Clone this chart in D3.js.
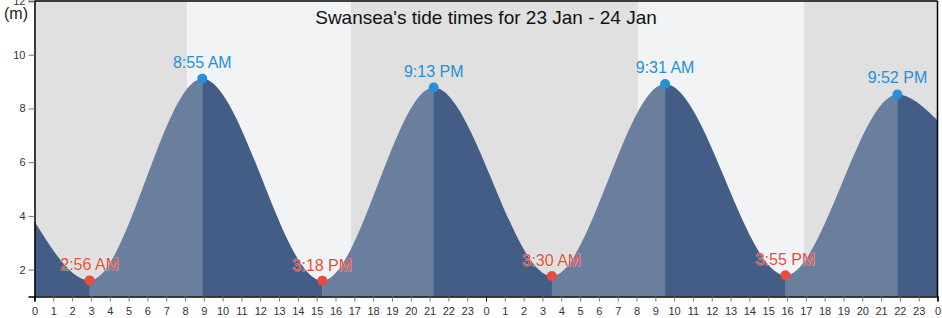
<!DOCTYPE html>
<html>
<head>
<meta charset="utf-8">
<script src="https://cdn.jsdelivr.net/npm/d3@7"></script>
<style>
  html, body { margin: 0; padding: 0; background: #fff; }
  svg { display: block; font-family: "Liberation Sans", Arial, sans-serif; }
</style>
</head>
<body>
<svg id="chart" width="942" height="318"></svg>
<script>
'use strict';

// ── Data ─────────────────────────────────────────────────────
// hours since 00:00 on 23 Jan, heights in metres
const TIDE_HOURS   = [0, 2.93, 8.92, 15.3, 21.22, 27.5, 33.52, 39.92, 45.87, 48];
const TIDE_HEIGHTS = [3.79, 1.6, 9.11, 1.59, 8.78, 1.76, 8.91, 1.79, 8.52, 7.56];

const EXTREME_HOURS   = [2.93, 8.92, 15.3, 21.22, 27.5, 33.52, 39.92, 45.87];
const EXTREME_HEIGHTS = [1.6, 9.11, 1.59, 8.78, 1.76, 8.91, 1.79, 8.52];
const EXTREME_LABELS  = ['2:56 AM', '8:55 AM', '3:18 PM', '9:13 PM', '3:30 AM', '9:31 AM', '3:55 PM', '9:52 PM'];
const EXTREME_TYPES   = ['low', 'high', 'low', 'high', 'low', 'high', 'low', 'high'];

// sunrise / sunset, hours
const DAYLIGHT = [[8.1, 16.83], [32.07, 40.9]];

const Y_TICKS = [2, 4, 6, 8, 10, 12];

// ── Look ─────────────────────────────────────────────────────
const W = 942, H = 318;
const M = { left: 34.5, right: 4.5, top: 1, bottom: 21.5 };
const COL = {
  night:   '#e0e0e0',
  day:     '#f2f3f5',
  rising:  '#6a7e9e',
  falling: '#445d87',
  high:    '#2590d8',
  low:     '#e84c3d',
};

const svg = d3.select('#chart');

const x = d3.scaleLinear().domain([0, 48]).range([M.left, W - M.right]);
const y = d3.scaleLinear().domain([1, 12]).range([H - M.bottom, M.top]);

// ── Background: night then daylight bands ────────────────────
svg.append('rect')
  .attr('x', x(0)).attr('y', y(12))
  .attr('width', x(48) - x(0)).attr('height', y(1) - y(12))
  .attr('fill', COL.night);

svg.append('g').selectAll('rect').data(DAYLIGHT).join('rect')
  .attr('x', d => x(d[0]))
  .attr('y', y(12))
  .attr('width', d => x(d[1]) - x(d[0]))
  .attr('height', y(1) - y(12))
  .attr('fill', COL.day);

// ── Tide area, split at each high / low ──────────────────────
const tide = TIDE_HOURS.map((h, i) => ({ h, v: TIDE_HEIGHTS[i] }));

const area = d3.area()
  .x(d => x(d.h))
  .y0(y(1))
  .y1(d => y(d.v))
  .curve(d3.curveMonotoneX);

svg.append('clipPath').attr('id', 'tide-clip')
  .append('path').attr('d', area(tide));

const bounds = [0, ...EXTREME_HOURS, 48];
const segments = d3.pairs(bounds).map(([a, b], i) => ({
  a, b,
  // segment ending at a low is falling, ending at a high is rising
  rising: i < EXTREME_TYPES.length ? EXTREME_TYPES[i] === 'high' : false,
}));

svg.append('g').attr('clip-path', 'url(#tide-clip)')
  .selectAll('rect').data(segments).join('rect')
  .attr('x', d => x(d.a))
  .attr('y', y(12))
  .attr('width', d => x(d.b) - x(d.a) + 0.3)
  .attr('height', y(1) - y(12))
  .attr('fill', d => d.rising ? COL.rising : COL.falling);

// ── Frame (top / right) ──────────────────────────────────────
svg.append('line')
  .attr('x1', x(0)).attr('x2', x(48))
  .attr('y1', y(12)).attr('y2', y(12))
  .attr('stroke', '#000').attr('stroke-width', 1.5);
svg.append('line')
  .attr('x1', x(48)).attr('x2', x(48))
  .attr('y1', y(12)).attr('y2', y(1))
  .attr('stroke', '#000').attr('stroke-width', 1.5);

// ── Axes ─────────────────────────────────────────────────────
const yAxis = svg.append('g')
  .attr('transform', `translate(${x(0)},0)`)
  .call(d3.axisLeft(y).tickValues(Y_TICKS).tickSize(6).tickPadding(3));
yAxis.select('.domain').attr('stroke', '#000').attr('stroke-width', 1.5);
yAxis.selectAll('.tick line').attr('stroke', '#777');
yAxis.selectAll('.tick text')
  .attr('font-size', 11).attr('fill', '#333')
  .attr('font-family', '"Liberation Sans", Arial, sans-serif');

const xAxis = svg.append('g')
  .attr('transform', `translate(0,${y(1)})`)
  .call(d3.axisBottom(x)
    .tickValues(d3.range(0, 49))
    .tickFormat(d => d % 24)
    .tickSize(5).tickPadding(6));
xAxis.select('.domain').attr('stroke', '#000').attr('stroke-width', 1.5);
xAxis.selectAll('.tick line').attr('stroke', d => d % 24 === 0 ? '#000' : '#777');
xAxis.selectAll('.tick text')
  .attr('font-size', 11).attr('fill', '#333')
  .attr('font-family', '"Liberation Sans", Arial, sans-serif');

// ── High / low markers ───────────────────────────────────────
const extremes = EXTREME_HOURS.map((h, i) => ({
  h, v: EXTREME_HEIGHTS[i], label: EXTREME_LABELS[i], type: EXTREME_TYPES[i],
}));

svg.append('g').selectAll('circle').data(extremes).join('circle')
  .attr('cx', d => x(d.h))
  .attr('cy', d => y(d.v))
  .attr('r', 5)
  .attr('fill', d => COL[d.type]);

svg.append('g').selectAll('text').data(extremes).join('text')
  .attr('x', d => x(d.h))
  .attr('y', d => y(d.v) - (d.type === 'high' ? 11 : 10))
  .attr('text-anchor', 'middle')
  .attr('font-size', 16)
  .attr('fill', d => COL[d.type])
  .attr('stroke', d => d.type === 'low' ? '#fff' : 'none')
  .attr('stroke-width', 1)
  .attr('stroke-opacity', 0.5)
  .attr('paint-order', 'stroke')
  .text(d => d.label);

// ── Titles ───────────────────────────────────────────────────
svg.append('text')
  .attr('x', (x(0) + x(48)) / 2)
  .attr('y', 24)
  .attr('text-anchor', 'middle')
  .attr('font-size', 19)
  .attr('fill', '#111')
  .text("Swansea's tide times for 23 Jan - 24 Jan");

svg.append('text')
  .attr('x', 4)
  .attr('y', 19)
  .attr('font-size', 16)
  .attr('fill', '#222')
  .text('(m)');
</script>
</body>
</html>
